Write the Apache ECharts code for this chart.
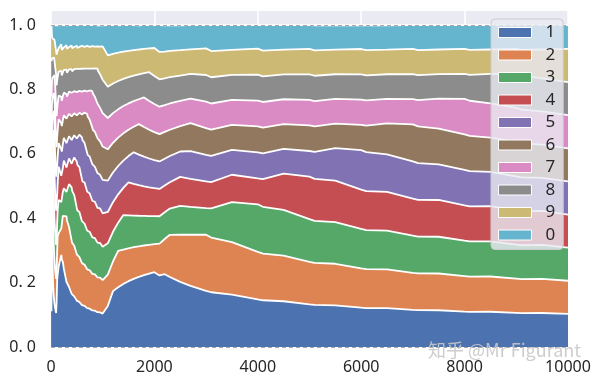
<!DOCTYPE html>
<html><head><meta charset="utf-8">
<script src="https://cdn.jsdelivr.net/npm/echarts@6/dist/echarts.min.js"></script>
<style>html,body{margin:0;padding:0;background:#fff}#c{width:600px;height:384px}</style>
</head><body><div id="c"></div>
<script>
const nValues = [9,19,29,39,49,59,69,79,89,99, 109,119,129,149,199, 209,229,249,299, 309,349,399, 409,449,499, 509,549,599, 609,649,699, 709,749,799, 809,849,899, 909,949,999, 1099,1199,1299,1399,1499,1599,1699,1799,1899,1999, 2099,2199,2299,2499,2699,2999, 3099,3499,3999, 4099,4499,4999, 5099,5499,5999, 6099,6499,6999, 7099,7499,7999, 8099,8499,8999, 9099,9499,9999,10000];
const digitLabels = ['1','2','3','4','5','6','7','8','9','0'];
const share1 = [.1111,.4138,.2653,.2029,.1685,.1468,.1318,.1208,.1124,.1058,
.1416,.2088,.2258,.2507,.2863,
.2717,.2642,.2426,.2028,
.1966,.1864,.1653,
.1618,.1574,.1440,
.1416,.1397,.1303,
.1286,.1278,.1207,
.1194,.1192,.1136,
.1125,.1128,.1081,
.1073,.1077,.1038,
.1277,.1735,.1859,.1960,.2045,.2118,.2180,.2234,.2281,.2323,
.2223,.2263,.2176,.2025,.1899,.1745,
.1701,.1629,.1478,
.1452,.1421,.1324,
.1306,.1293,.1223,
.1211,.1205,.1153,
.1143,.1142,.1101,
.1093,.1095,.1061,
.1054,.1057,.1029,.1029];
const share2 = [.1111,.0690,.2653,.2029,.1685,.1468,.1318,.1208,.1124,.1058,
.0959,.0884,.1183,.1032,.0818,
.0983,.1434,.1643,.2028,
.1966,.1864,.1653,
.1618,.1574,.1440,
.1416,.1397,.1303,
.1286,.1278,.1207,
.1194,.1192,.1136,
.1125,.1128,.1081,
.1073,.1077,.1038,
.0973,.0922,.1125,.1069,.1023,.0983,.0949,.0920,.0894,.0871,
.0988,.1092,.1310,.1462,.1589,.1745,
.1701,.1629,.1478,
.1452,.1421,.1324,
.1306,.1293,.1223,
.1211,.1205,.1153,
.1143,.1142,.1101,
.1093,.1095,.1061,
.1054,.1057,.1029,.1028];
const share3 = [.1111,.0690,.0612,.2029,.1685,.1468,.1318,.1208,.1124,.1058,
.0959,.0884,.0824,.1032,.0818,
.0790,.0743,.0861,.0760,
.0867,.1331,.1653,
.1618,.1574,.1440,
.1416,.1397,.1303,
.1286,.1278,.1207,
.1194,.1192,.1136,
.1125,.1128,.1081,
.1073,.1077,.1038,
.0973,.0922,.0880,.1069,.1023,.0983,.0949,.0920,.0894,.0871,
.0851,.0832,.0816,.0900,.0867,.0827,
.0904,.1241,.1478,
.1452,.1421,.1324,
.1306,.1293,.1223,
.1211,.1205,.1153,
.1143,.1142,.1101,
.1093,.1095,.1061,
.1054,.1057,.1029,.1028];
const share4 = [.1111,.0690,.0612,.0580,.1685,.1468,.1318,.1208,.1124,.1058,
.0959,.0884,.0824,.1032,.0818,
.0790,.0743,.0861,.0760,
.0745,.0799,.0735,
.0813,.1170,.1440,
.1416,.1397,.1303,
.1286,.1278,.1207,
.1194,.1192,.1136,
.1125,.1128,.1081,
.1073,.1077,.1038,
.0973,.0922,.0880,.0847,.1023,.0983,.0949,.0920,.0894,.0871,
.0851,.0832,.0816,.0900,.0867,.0827,
.0815,.0853,.0806,
.0863,.1125,.1324,
.1306,.1293,.1223,
.1211,.1205,.1153,
.1143,.1142,.1101,
.1093,.1095,.1061,
.1054,.1057,.1029,.1028];
const share5 = [.1111,.0690,.0612,.0580,.0562,.1468,.1318,.1208,.1124,.1058,
.0959,.0884,.0824,.0737,.0818,
.0790,.0743,.0704,.0760,
.0745,.0692,.0735,
.0724,.0686,.0720,
.0782,.1007,.1303,
.1286,.1223,.1207,
.1194,.1145,.1136,
.1125,.1087,.1081,
.1073,.1041,.1038,
.0973,.0922,.0880,.0847,.0818,.0983,.0949,.0920,.0894,.0871,
.0851,.0832,.0816,.0787,.0867,.0827,
.0815,.0776,.0806,
.0798,.0770,.0794,
.0840,.1005,.1223,
.1211,.1165,.1153,
.1143,.1108,.1101,
.1093,.1064,.1061,
.1054,.1030,.1029,.1028];
const share6 = [.1111,.0690,.0612,.0580,.0562,.0550,.1318,.1208,.1124,.1058,
.0959,.0884,.0824,.0737,.0818,
.0790,.0743,.0704,.0760,
.0745,.0692,.0735,
.0724,.0686,.0720,
.0712,.0682,.0710,
.0762,.0952,.1207,
.1194,.1145,.1136,
.1125,.1087,.1081,
.1073,.1041,.1038,
.0973,.0922,.0880,.0847,.0818,.0794,.0949,.0920,.0894,.0871,
.0851,.0832,.0816,.0787,.0867,.0827,
.0815,.0776,.0806,
.0798,.0770,.0794,
.0788,.0766,.0786,
.0824,.0964,.1153,
.1143,.1108,.1101,
.1093,.1064,.1061,
.1054,.1030,.1029,.1028];
const share7 = [.1111,.0690,.0612,.0580,.0562,.0550,.0543,.1208,.1124,.1058,
.0959,.0884,.0824,.0737,.0818,
.0790,.0743,.0704,.0760,
.0745,.0692,.0735,
.0724,.0686,.0720,
.0712,.0682,.0710,
.0704,.0680,.0704,
.0748,.0912,.1136,
.1125,.1087,.1081,
.1073,.1041,.1038,
.0973,.0922,.0880,.0847,.0818,.0794,.0773,.0920,.0894,.0871,
.0851,.0832,.0816,.0787,.0764,.0827,
.0815,.0776,.0806,
.0798,.0770,.0794,
.0788,.0766,.0786,
.0781,.0763,.0781,
.0814,.0935,.1101,
.1093,.1064,.1061,
.1054,.1030,.1029,.1028];
const share8 = [.1111,.0690,.0612,.0580,.0562,.0550,.0543,.0537,.1124,.1058,
.0959,.0884,.0824,.0737,.0818,
.0790,.0743,.0704,.0760,
.0745,.0692,.0735,
.0724,.0686,.0720,
.0712,.0682,.0710,
.0704,.0680,.0704,
.0698,.0678,.0699,
.0737,.0882,.1081,
.1073,.1041,.1038,
.0973,.0922,.0880,.0847,.0818,.0794,.0773,.0755,.0894,.0871,
.0851,.0832,.0816,.0787,.0764,.0827,
.0815,.0776,.0806,
.0798,.0770,.0794,
.0788,.0766,.0786,
.0781,.0763,.0781,
.0777,.0762,.0777,
.0805,.0912,.1061,
.1054,.1030,.1029,.1028];
const share9 = [.1111,.0690,.0612,.0580,.0562,.0550,.0543,.0537,.0533,.1058,
.0959,.0884,.0824,.0737,.0818,
.0790,.0743,.0704,.0760,
.0745,.0692,.0735,
.0724,.0686,.0720,
.0712,.0682,.0710,
.0704,.0680,.0704,
.0698,.0678,.0699,
.0694,.0677,.0695,
.0729,.0858,.1038,
.0973,.0922,.0880,.0847,.0818,.0794,.0773,.0755,.0740,.0871,
.0851,.0832,.0816,.0787,.0764,.0827,
.0815,.0776,.0806,
.0798,.0770,.0794,
.0788,.0766,.0786,
.0781,.0763,.0781,
.0777,.0762,.0777,
.0773,.0760,.0774,
.0799,.0895,.1029,.1028];
const share0 = [0,.0345,.0408,.0435,.0449,.0459,.0465,.0470,.0473,.0476,
.0913,.0843,.0789,.0708,.0593,
.0771,.0725,.0689,.0621,
.0733,.0682,.0634,
.0715,.0678,.0641,
.0705,.0676,.0645,
.0698,.0674,.0649,
.0693,.0673,.0651,
.0690,.0672,.0653,
.0687,.0672,.0654,
.0939,.0892,.0854,.0822,.0796,.0773,.0754,.0737,.0723,.0710,
.0836,.0818,.0802,.0775,.0752,.0725,
.0805,.0767,.0731,
.0791,.0763,.0735,
.0782,.0761,.0738,
.0777,.0759,.0740,
.0773,.0758,.0741,
.0770,.0757,.0742,
.0768,.0756,.0743,.0744];
const xTicks = [0,2000,4000,6000,8000,10000];
const yTicks = [0,0.2,0.4,0.6,0.8,1.0];
const refLines = [0, 1.0];

const shares = [share1,share2,share3,share4,share5,share6,share7,share8,share9,share0];
const colors = ['#4C72B0','#DD8452','#55A868','#C44E52','#8172B3','#937860','#DA8BC3','#8C8C8C','#CCB974','#64B5CD'];
const FONT = 'Noto Sans';

// cumulative table (stack order 1..9,0)
const cumul = shares.map(()=>[]);
nValues.forEach((n,k)=>{
  let s = 0;
  shares.forEach((arr,i)=>{ s += arr[k]; cumul[i][k] = s; });
});

const chart = echarts.init(document.getElementById('c'), null, {renderer:'canvas'});
const series = [];
for (let i = digitLabels.length - 1; i >= 0; i--) {
  series.push({
    name:digitLabels[i], type:'line', symbol:'none', showSymbol:false,
    data: nValues.map((n,k)=>[n, cumul[i][k]]),
    lineStyle:{color:'#ffffff', width:1.8},
    itemStyle:{color:colors[i]},
    areaStyle:{color:colors[i], opacity:1, origin:'start'},
    emphasis:{disabled:true},
    z:2, animation:false
  });
}
series.push({
  type:'line', data:[], silent:true, z:40, animation:false,
  markLine:{silent:true, symbol:['none','none'], label:{show:false},
    lineStyle:{color:'#a8a8a8', type:[4,3], width:1},
    data: refLines.map(v=>({yAxis:v})), animation:false}
});
chart.setOption({
  animation:false,
  grid:{left:51, right:32, top:11, bottom:37, show:true, backgroundColor:'#EAEAF2', borderWidth:0},
  xAxis:{type:'value', min:xTicks[0], max:xTicks[xTicks.length-1], interval:2000,
    axisLine:{show:false}, axisTick:{show:false},
    splitLine:{show:true, lineStyle:{color:'#ffffff', width:1.5}},
    axisLabel:{fontSize:16, color:'#262626', fontFamily:FONT, margin:12, formatter:v=>String(v)}},
  yAxis:{type:'value', min:yTicks[0], max:1.044, interval:0.2,
    axisLine:{show:false}, axisTick:{show:false}, splitLine:{show:false},
    axisLabel:{fontSize:16, color:'#262626', fontFamily:FONT, margin:15, showMaxLabel:false,
      formatter:v=> v>1.01 ? '' : v.toFixed(1).replace('.', '. ')}},
  legend:{data:digitLabels, orient:'vertical', left:491, top:19, icon:'rect',
    itemWidth:33, itemHeight:10, itemGap:5.5, padding:[5,8,6,7],
    backgroundColor:'rgba(234,234,242,0.8)', borderColor:'#cccccc', borderWidth:1, borderRadius:4,
    textStyle:{fontSize:17, color:'#262626', fontFamily:FONT, lineHeight:12, padding:[0,0,0,9]},
    itemStyle:{borderColor:'#ffffff', borderWidth:1}, z:50},
  graphic:[{type:'text', left:428, top:341, z:100, silent:true,
    style:{text:'知乎 @Mr Figurant', fontSize:18, fill:'rgba(200,200,200,0.9)', fontFamily:'Noto Sans CJK SC'}}],
  series: series
});
</script></body></html>
